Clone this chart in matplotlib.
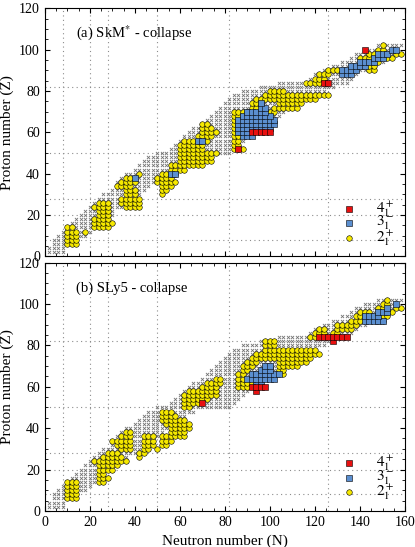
import matplotlib
matplotlib.use("Agg")
import matplotlib.pyplot as plt

plt.rcParams['font.family'] = ['Liberation Serif', 'DejaVu Serif']
plt.rcParams['mathtext.fontset'] = 'stix'

# even-even nuclei band: Z -> (N min, N max)
band = {2: (2, 8), 4: (2, 8), 6: (4, 10), 8: (4, 14), 10: (6, 18), 12: (8, 20), 14: (10, 22),
        16: (12, 24), 18: (14, 26), 20: (16, 30), 22: (18, 30), 24: (20, 34), 26: (22, 36),
        28: (24, 40), 30: (26, 42), 32: (30, 44), 34: (32, 46), 36: (32, 50), 38: (34, 52),
        40: (36, 54), 42: (40, 56), 44: (42, 60), 46: (44, 62), 48: (46, 66), 50: (50, 82),
        52: (56, 84), 54: (58, 86), 56: (60, 88), 58: (62, 90), 60: (64, 92), 62: (66, 96),
        64: (70, 100), 66: (72, 102), 68: (74, 104), 70: (76, 106), 72: (78, 108), 74: (80, 110),
        76: (82, 114), 78: (84, 118), 80: (88, 124), 82: (96, 128), 84: (104, 134),
        86: (118, 136), 88: (120, 138), 90: (124, 142), 92: (128, 146), 94: (132, 150),
        96: (136, 152), 98: (138, 156), 100: (142, 156), 102: (148, 158)}

# (a) SkM*
yel_a = {6: [(10, 14)], 8: [(10, 14)], 10: [(10, 14)], 12: [(10, 14), (18, 18)], 14: [(10, 12), (22, 28)],
         16: [(22, 30)], 18: [(22, 28)], 20: [(24, 28)], 22: [(24, 28)], 24: [(22, 28), (36, 42)],
         26: [(24, 28), (34, 42)], 28: [(34, 42)], 30: [(36, 40), (52, 52)], 32: [(36, 40), (52, 54)],
         34: [(32, 38), (52, 56)], 36: [(34, 40), (50, 58)], 38: [(36, 38), (50, 56)],
         40: [(42, 42), (52, 58)], 42: [(56, 62)], 44: [(56, 70)], 46: [(60, 74)], 48: [(60, 74)],
         50: [(60, 76)], 52: [(60, 70), (84, 88)], 54: [(60, 70), (84, 86)], 56: [(62, 72), (84, 86)],
         58: [(68, 74), (84, 86)], 60: [(70, 76), (84, 86)], 62: [(70, 74), (84, 88)],
         64: [(70, 72), (84, 88)], 66: [(84, 90)], 68: [(84, 90)], 70: [(84, 92), (100, 102)],
         72: [(92, 94), (102, 112)], 74: [(92, 96), (104, 114)], 76: [(94, 120)], 78: [(98, 126)],
         80: [(100, 106)], 84: [(116, 122)], 86: [(120, 124)], 88: [(122, 126)],
         90: [(126, 130), (144, 146)], 92: [(144, 146)], 94: [(146, 148)], 96: [(140, 144), (152, 154)],
         98: [(144, 146), (156, 158)], 100: [(148, 150)], 102: [(150, 150)]}
blu_a = {38: [(40, 40)], 40: [(56, 58)], 56: [(68, 70)], 58: [(88, 92)], 60: [(86, 90)], 62: [(86, 100)],
         64: [(86, 102)], 66: [(86, 102)], 68: [(88, 100)], 70: [(90, 98)], 72: [(96, 98)], 74: [(96, 96)],
         88: [(132, 136)], 90: [(132, 138)], 92: [(136, 142)], 94: [(140, 146)], 96: [(146, 150)],
         98: [(148, 152)], 100: [(154, 156)]}
red_a = {52: [(86, 86)], 60: [(92, 100)], 84: [(124, 126)], 100: [(142, 142)]}

# (b) SLy5
yel_b = {6: [(10, 14)], 8: [(10, 14)], 10: [(10, 14)], 12: [(10, 14)], 14: [(10, 14), (24, 26)],
         16: [(24, 28)], 18: [(24, 26)], 20: [(24, 30)], 22: [(24, 32)], 24: [(22, 36)],
         26: [(26, 34), (42, 42)], 28: [(28, 32), (42, 44)], 30: [(34, 38), (44, 46), (50, 50)],
         32: [(32, 38), (44, 48), (52, 54)], 34: [(30, 38), (44, 48), (52, 56)], 36: [(34, 38), (44, 48), (52, 62)],
         38: [(36, 38), (56, 62)], 40: [(56, 64)], 42: [(54, 64)], 44: [(52, 62)], 46: [(52, 58)],
         48: [(52, 56)], 50: [(62, 64)], 52: [(62, 68)], 54: [(62, 72)], 56: [(62, 76)], 58: [(64, 76)],
         60: [(70, 76), (86, 90)], 62: [(72, 78), (86, 92)], 64: [(76, 78), (86, 88)],
         66: [(86, 88), (104, 106)], 68: [(88, 90), (104, 106)], 70: [(88, 92), (104, 112)],
         72: [(90, 94), (104, 116)], 74: [(92, 118)], 76: [(94, 122)], 78: [(98, 120)], 80: [(98, 102)],
         82: [(98, 102)], 84: [(118, 120)], 86: [(120, 124), (128, 130)], 88: [(122, 124), (130, 136)],
         90: [(130, 138)], 92: [(136, 140), (148, 150)], 94: [(138, 142), (150, 152)],
         96: [(140, 144), (152, 154)], 98: [(148, 150), (156, 158)], 100: [(150, 152)], 102: [(152, 152)]}
blu_b = {62: [(94, 96)], 64: [(90, 102)], 66: [(92, 104)], 68: [(96, 100)], 70: [(98, 100)],
         92: [(142, 150)], 94: [(142, 148)], 96: [(148, 152)], 98: [(152, 152)], 100: [(156, 156)]}
red_b = {52: [(70, 70)], 58: [(94, 94)], 60: [(92, 98)], 82: [(128, 128)], 84: [(122, 134)]}

magic = [8, 20, 28, 50, 82, 126]


def expand(d):
    ns, zs = [], []
    for z, rr in d.items():
        for a, b in rr:
            for n in range(a, b + 1, 2):
                ns.append(n)
                zs.append(z)
    return ns, zs


fig, axes = plt.subplots(2, 1, figsize=(4.15, 5.47), dpi=100, sharex=True)
fig.subplots_adjust(left=0.108, right=0.976, top=0.985, bottom=0.066, hspace=0.025)

for ax, yel, blu, red, title in [(axes[0], yel_a, blu_a, red_a, r'(a) SkM$^{*}$ - collapse'),
                                 (axes[1], yel_b, blu_b, red_b, '(b) SLy5 - collapse')]:
    for m in magic:
        ax.axvline(m, color='0.55', ls=(0, (1, 3)), lw=0.8, zorder=0)
        if m < 120:
            ax.axhline(m, color='0.55', ls=(0, (1, 3)), lw=0.8, zorder=0)
    covered = set()
    for d in (yel, blu, red):
        covered.update(zip(*expand(d)[::-1]))
    gx, gz = [], []
    for z, (a, b) in band.items():
        for n in range(a, b + 1, 2):
            if (z, n) not in covered:
                gx.append(n)
                gz.append(z)
    ax.scatter(gx, gz, marker='x', s=5, lw=0.6, color='0.45', zorder=1)
    n, z = expand(yel)
    ax.scatter(n, z, marker='o', s=16, facecolor='#f5e800', edgecolor='k', lw=0.4, zorder=2)
    n, z = expand(blu)
    ax.scatter(n, z, marker='s', s=16, facecolor='#5b8fd0', edgecolor='k', lw=0.4, zorder=3)
    n, z = expand(red)
    ax.scatter(n, z, marker='s', s=16, facecolor='#e81010', edgecolor='k', lw=0.4, zorder=4)
    ax.text(14, 106, title, fontsize=10.5)
    # legend
    ax.scatter([135], [23], marker='s', s=16, facecolor='#e81010', edgecolor='k', lw=0.4)
    ax.scatter([135], [16], marker='s', s=16, facecolor='#5b8fd0', edgecolor='k', lw=0.4)
    ax.scatter([135], [9], marker='o', s=16, facecolor='#f5e800', edgecolor='k', lw=0.4)
    ax.text(147, 23, r'$4_1^+$', fontsize=11, va='center')
    ax.text(147, 16, r'$3_1^-$', fontsize=11, va='center')
    ax.text(147, 9, r'$2_1^+$', fontsize=11, va='center')
    ax.set_xlim(0, 160)
    ax.set_ylim(0, 120)
    ax.set_yticks(range(0, 121, 20))
    ax.set_xticks(range(0, 161, 20))
    ax.minorticks_on()
    ax.tick_params(which='both', direction='in', top=True, right=True, labelsize=10)
    ax.set_ylabel('Proton number (Z)', fontsize=11)

axes[1].set_xlabel('Neutron number (N)', fontsize=11)
fig.savefig('out.png', dpi=100)
